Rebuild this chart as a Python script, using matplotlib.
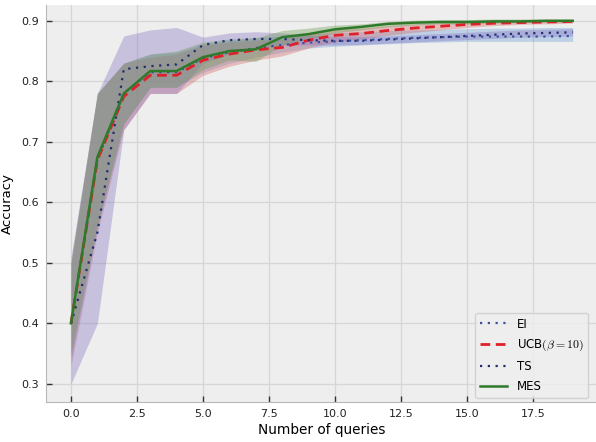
import matplotlib
matplotlib.use("Agg")
import matplotlib.pyplot as plt
import numpy as np

plt.rcParams['mathtext.fontset'] = 'cm'

queries = np.arange(20)

# mean accuracy per method
ei_mean = [0.40, 0.67, 0.78, 0.815, 0.815, 0.838, 0.848, 0.855, 0.860, 0.864,
           0.866, 0.868, 0.870, 0.872, 0.873, 0.874, 0.874, 0.874, 0.874, 0.875]
ucb_mean = [0.40, 0.67, 0.775, 0.810, 0.810, 0.835, 0.845, 0.852, 0.856, 0.868,
            0.876, 0.879, 0.884, 0.888, 0.891, 0.894, 0.896, 0.897, 0.898, 0.899]
ts_mean = [0.40, 0.55, 0.820, 0.825, 0.828, 0.860, 0.868, 0.870, 0.870, 0.868,
           0.867, 0.867, 0.869, 0.871, 0.873, 0.875, 0.877, 0.879, 0.880, 0.881]
mes_mean = [0.40, 0.675, 0.78, 0.817, 0.817, 0.840, 0.850, 0.853, 0.873, 0.878,
            0.886, 0.890, 0.895, 0.897, 0.898, 0.898, 0.899, 0.899, 0.900, 0.900]

# shaded band limits
ei_lo = [0.34, 0.56, 0.73, 0.79, 0.79, 0.815, 0.83, 0.84, 0.848, 0.855,
         0.858, 0.860, 0.862, 0.864, 0.865, 0.866, 0.866, 0.866, 0.866, 0.866]
ei_hi = [0.50, 0.78, 0.83, 0.845, 0.848, 0.862, 0.868, 0.872, 0.875, 0.878,
         0.880, 0.882, 0.884, 0.885, 0.886, 0.887, 0.888, 0.888, 0.889, 0.889]
ucb_lo = [0.33, 0.55, 0.72, 0.78, 0.78, 0.81, 0.825, 0.835, 0.842, 0.855,
          0.865, 0.870, 0.876, 0.881, 0.885, 0.889, 0.892, 0.894, 0.895, 0.896]
ucb_hi = [0.50, 0.78, 0.83, 0.84, 0.845, 0.86, 0.865, 0.868, 0.870, 0.880,
          0.886, 0.888, 0.892, 0.895, 0.897, 0.899, 0.900, 0.900, 0.901, 0.902]
ts_lo = [0.30, 0.40, 0.72, 0.78, 0.78, 0.83, 0.845, 0.855, 0.860, 0.860,
         0.860, 0.861, 0.863, 0.865, 0.867, 0.869, 0.871, 0.873, 0.874, 0.875]
ts_hi = [0.51, 0.78, 0.875, 0.885, 0.889, 0.873, 0.880, 0.882, 0.880, 0.876,
         0.874, 0.874, 0.875, 0.877, 0.879, 0.881, 0.883, 0.885, 0.886, 0.887]
mes_lo = [0.35, 0.56, 0.73, 0.79, 0.79, 0.82, 0.835, 0.833, 0.860, 0.870,
          0.880, 0.885, 0.890, 0.893, 0.895, 0.895, 0.896, 0.897, 0.898, 0.898]
mes_hi = [0.50, 0.78, 0.83, 0.845, 0.850, 0.865, 0.870, 0.872, 0.884, 0.888,
          0.893, 0.895, 0.899, 0.901, 0.902, 0.902, 0.903, 0.903, 0.903, 0.903]

methods = ['EI', r'UCB$(\beta=10)$', 'TS', 'MES']
line_colors = ['#3d4f9e', '#e0202a', '#232d70', '#2f7a2a']
band_colors = ['#6fa0d8', '#d46a6a', '#8a78c4', '#6d9a55']
line_styles = [(0, (1, 2.5)), (0, (3.5, 2)), (0, (1, 2.5)), '-']
line_widths = [1.6, 2.0, 1.6, 1.8]

means = [ei_mean, ucb_mean, ts_mean, mes_mean]
lows = [ei_lo, ucb_lo, ts_lo, mes_lo]
highs = [ei_hi, ucb_hi, ts_hi, mes_hi]

fig = plt.figure(figsize=(5.96, 4.42), dpi=100)
ax = fig.add_axes([0.077, 0.0905, 0.926, 0.898])
ax.set_facecolor('#eeeeee')
fig.patch.set_facecolor('white')

for lo, hi, c in zip(lows, highs, band_colors):
    ax.fill_between(queries, lo, hi, color=c, alpha=0.38, linewidth=0)

for m, lab, c, ls, lw in zip(means, methods, line_colors, line_styles, line_widths):
    ax.plot(queries, m, linestyle=ls, color=c, lw=lw, label=lab)

ax.set_xlim(-0.95, 19.95)
ax.set_ylim(0.270, 0.926)
ax.set_xticks(np.arange(0, 18, 2.5))
ax.set_yticks(np.arange(0.3, 0.95, 0.1))
ax.grid(True, color='#d6d6d6', lw=0.9)
ax.set_axisbelow(True)
for s in ['top', 'right']:
    ax.spines[s].set_visible(False)
for s in ['left', 'bottom']:
    ax.spines[s].set_color('#b8b8b8')
ax.tick_params(direction='in', length=4, width=1, color='#333333', labelsize=8,
               labelcolor='#222222', pad=5)
ax.set_xlabel('Number of queries', fontsize=9.8, labelpad=3)
ax.set_ylabel('Accuracy', fontsize=9.5, labelpad=5)

leg = ax.legend(loc='lower right', fontsize=8.5, frameon=True, handlelength=2.3,
                borderaxespad=0.35, labelspacing=0.6, bbox_to_anchor=(0.99, 0.0))
leg.get_frame().set_facecolor('#eeeeee')
leg.get_frame().set_edgecolor('#cccccc')

fig.savefig('out.png', dpi=100)
